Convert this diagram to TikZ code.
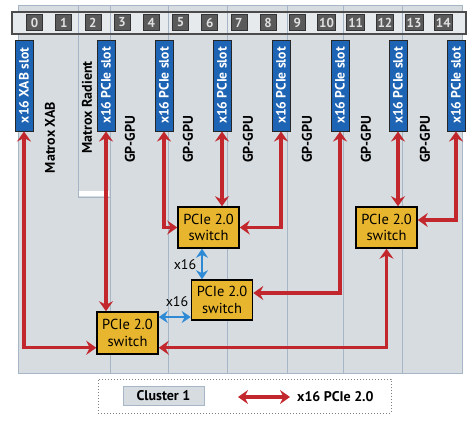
\documentclass[tikz,border=0pt]{standalone}
\usepackage{fontspec}
\setmainfont{PT Sans}
\usetikzlibrary{arrows.meta,calc}
\definecolor{cPNL}{HTML}{D7DCE0}
\definecolor{cLIN}{HTML}{A6B6C7}
\definecolor{cNUM}{HTML}{5A5A5A}
\definecolor{cSLT}{HTML}{1E64B4}
\definecolor{cRED}{HTML}{C1272D}
\definecolor{cBLU}{HTML}{2F8AD6}
\definecolor{cSW}{HTML}{E8B52E}

\begin{document}
\begin{tikzpicture}[x=1pt, y=-1pt, font=\fontsize{14}{16}\selectfont, >=Stealth,
  slotbox/.style={draw=black!85, fill=cSLT, text=white, line width=1pt, rotate=90,
    minimum width=91pt, minimum height=18pt, inner sep=0pt, font=\bfseries\fontsize{13.5}{14}\selectfont},
  numbox/.style={draw=black!80, fill=cNUM, text=black!12, line width=0.8pt,
    minimum width=16pt, minimum height=16pt, inner sep=1.5pt, font=\bfseries\fontsize{13}{13}\selectfont},
  cardlbl/.style={rotate=90, font=\bfseries\fontsize{14}{14}\selectfont},
  switchbox/.style={draw=black, fill=cSW, line width=1.5pt, align=center,
    minimum width=61pt, minimum height=41pt, inner sep=0pt, font=\fontsize{14.5}{16.5}\selectfont},
  link/.style={cRED, line width=3.2pt, {Stealth[length=10pt,width=14pt,inset=3.5pt]}-{Stealth[length=10pt,width=14pt,inset=3.5pt]}},
  xlink/.style={cBLU, line width=2.8pt, {Stealth[length=9pt,width=12pt,inset=3pt]}-{Stealth[length=9pt,width=12pt,inset=3pt]}}
]
\useasboundingbox (0,0) rectangle (474,424);

% chassis and slot strip
\draw[cLIN, fill=cPNL, line width=1pt] (18,5) rectangle (462,373);
\fill[cPNL!60!white] (12,12) rectangle (466,34);
\foreach \x in {110,168,227,287,343,402}
  \draw[cLIN, line width=1pt] (\x,5) -- (\x,373);
\draw[cLIN, line width=1pt] (78,5) -- (78,197) -- (110,197);
\fill[white] (79,191) rectangle (109,196);
\draw[black!70, line width=1.4pt] (12,12) rectangle (466,34);
\foreach \i in {0,...,14}
  \node[numbox] (num\i) at ({34.5+29.2*\i},22.5) {\i};

% slots
\node[slotbox] (slot0) at (24,85.5) {x16 XAB slot};
\foreach \s/\x in {2/106,4/164,6/222,8/281,10/340,12/398,14/456}
  \node[slotbox] (slot\s) at (\x,85.5) {x16 PCIe slot};

% cards
\node[cardlbl] (xab) at (50,137.5) {Matrox XAB};
\node[cardlbl] (radient) at (87,107.5) {Matrox Radient};
\foreach \g/\x in {1/130,2/188,3/248,4/307,5/366,6/425}
  \node[cardlbl] (gpu\g) at (\x,139.5) {GP-GPU};

% switches
\node[switchbox] (swA) at (208.5,227.5) {PCIe 2.0\\switch};
\node[switchbox, minimum height=40pt] (swB) at (222,300) {PCIe 2.0\\switch};
\node[switchbox] (swC) at (386.5,227.5) {PCIe 2.0\\switch};
\node[switchbox, minimum height=42pt] (swD) at (127.5,333) {PCIe 2.0\\switch};

% x16 PCIe 2.0 links
\draw[link] (slot0.west) |- ([yshift=7pt]swD.south west);
\draw[link] (slot2.west) -- (slot2.west |- swD.north);
\draw[link] (slot4.west) |- (swA.west);
\draw[link] (slot6.west) -- (slot6.west |- swA.north);
\draw[link] (slot8.west) |- (swA.east);
\draw[link] (slot10.west) |- ([yshift=7pt]swB.east);
\draw[link] (slot12.west) -- (slot12.west |- swC.north);
\draw[link] (slot14.west) |- ([yshift=7.5pt]swC.east);
\draw[link] (swC.south) |- ([yshift=7pt]swD.south east);

% switch to switch
\draw[xlink] ([xshift=-6.5pt]swA.south) -- ([xshift=-6.5pt]swA.south |- swB.north);
\draw[xlink] ([yshift=16pt]swD.east) -- ([yshift=16pt]swD.east -| swB.west);
\node (lblA) at (185,265) {x16};
\node (lblB) at (177,302) {x16};

% legend
\node[draw=black!50, dotted, line width=1pt, minimum width=293pt, minimum height=34pt] (key) at (244.5,396) {};
\node[draw=cLIN, fill=cPNL, line width=1pt, minimum width=81pt, minimum height=19pt, inner sep=0pt, font=\bfseries\fontsize{14}{14}\selectfont] (cluster) at (163.5,395.5) {Cluster 1};
\coordinate (keyA) at (238,397);
\coordinate (keyB) at (290,397);
\draw[link] (keyA) -- (keyB);
\node[anchor=west, inner sep=0pt, font=\bfseries\fontsize{14}{14}\selectfont] (keytxt) at (297,397) {x16 PCIe 2.0};
\end{tikzpicture}
\end{document}
